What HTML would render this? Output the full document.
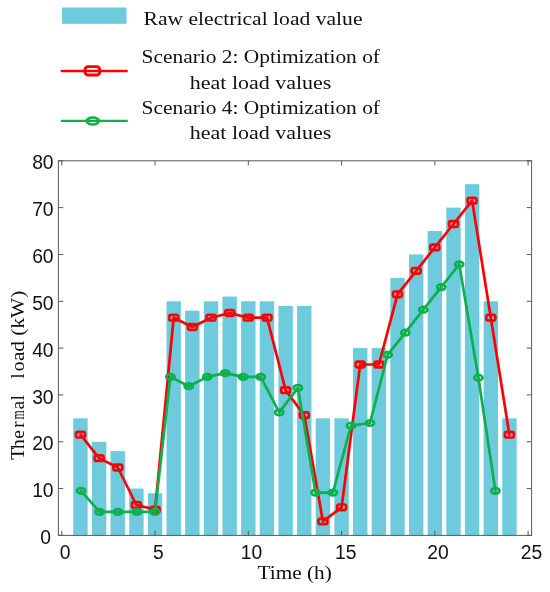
<!DOCTYPE html>
<html><head><meta charset="utf-8"><title>Thermal load</title>
<style>html,body{margin:0;padding:0;background:#fff}svg{display:block}text{fill:#111}.s{font-family:"Liberation Serif",serif}.a{font-family:"Liberation Sans",sans-serif}</style></head><body>
<svg width="550" height="592" viewBox="0 0 550 592">
<rect width="550" height="592" fill="#fff"/>
<rect x="62" y="7.5" width="64.5" height="16.3" fill="#6ecbde"/>
<line x1="61.8" y1="71.0" x2="126.8" y2="71.0" stroke="#ff0000" stroke-width="2.3" stroke-linecap="round"/>
<rect x="85.05" y="66.6" width="14.6" height="8.4" rx="3" fill="none" stroke="#ff0000" stroke-width="2.9"/>
<line x1="61.8" y1="120.9" x2="126.8" y2="120.9" stroke="#0db04b" stroke-width="2.3" stroke-linecap="round"/>
<ellipse cx="92.8" cy="121" rx="6.2" ry="3.45" fill="none" stroke="#0db04b" stroke-width="2.5"/>
<g class="s" font-size="19.6">
<text x="143.5" y="24.8" textLength="219" lengthAdjust="spacingAndGlyphs">Raw electrical load value</text>
<text x="141.6" y="62.6" textLength="238.4" lengthAdjust="spacingAndGlyphs">Scenario 2: Optimization of</text>
<text x="189.8" y="88.8" textLength="141.6" lengthAdjust="spacingAndGlyphs">heat load values</text>
<text x="141.6" y="113.9" textLength="238.4" lengthAdjust="spacingAndGlyphs">Scenario 4: Optimization of</text>
<text x="189.8" y="139.2" textLength="141.6" lengthAdjust="spacingAndGlyphs">heat load values</text>
</g>
<g fill="#6ecbde">
<rect x="73.25" y="418.34" width="14.4" height="117.06"/>
<rect x="91.90" y="441.75" width="14.4" height="93.65"/>
<rect x="110.56" y="451.12" width="14.4" height="84.28"/>
<rect x="129.21" y="488.57" width="14.4" height="46.82"/>
<rect x="147.86" y="493.26" width="14.4" height="42.14"/>
<rect x="166.51" y="301.27" width="14.4" height="234.12"/>
<rect x="185.16" y="310.64" width="14.4" height="224.76"/>
<rect x="203.82" y="301.27" width="14.4" height="234.12"/>
<rect x="222.47" y="296.59" width="14.4" height="238.81"/>
<rect x="241.12" y="301.27" width="14.4" height="234.12"/>
<rect x="259.77" y="301.27" width="14.4" height="234.12"/>
<rect x="278.42" y="305.96" width="14.4" height="229.44"/>
<rect x="297.08" y="305.96" width="14.4" height="229.44"/>
<rect x="315.73" y="418.34" width="14.4" height="117.06"/>
<rect x="334.38" y="418.34" width="14.4" height="117.06"/>
<rect x="353.03" y="348.10" width="14.4" height="187.30"/>
<rect x="371.68" y="348.10" width="14.4" height="187.30"/>
<rect x="390.34" y="277.86" width="14.4" height="257.54"/>
<rect x="408.99" y="254.45" width="14.4" height="280.95"/>
<rect x="427.64" y="231.04" width="14.4" height="304.36"/>
<rect x="446.29" y="207.62" width="14.4" height="327.78"/>
<rect x="464.94" y="184.21" width="14.4" height="351.19"/>
<rect x="483.60" y="301.27" width="14.4" height="234.12"/>
<rect x="502.25" y="418.34" width="14.4" height="117.06"/>
</g>
<g stroke="#5a5a5a" stroke-width="1" fill="none">
<rect x="58.4" y="160.8" width="473.20000000000005" height="374.59999999999997"/>
<path d="M61.80 535.4v-4.7M61.80 160.8v4.7M155.06 535.4v-4.7M155.06 160.8v4.7M248.32 535.4v-4.7M248.32 160.8v4.7M341.58 535.4v-4.7M341.58 160.8v4.7M434.84 535.4v-4.7M434.84 160.8v4.7M528.10 535.4v-4.7M528.10 160.8v4.7M58.4 535.40h4.9M531.6 535.40h-4.9M58.4 488.57h4.9M531.6 488.57h-4.9M58.4 441.75h4.9M531.6 441.75h-4.9M58.4 394.92h4.9M531.6 394.92h-4.9M58.4 348.10h4.9M531.6 348.10h-4.9M58.4 301.27h4.9M531.6 301.27h-4.9M58.4 254.45h4.9M531.6 254.45h-4.9M58.4 207.62h4.9M531.6 207.62h-4.9M58.4 160.80h4.9M531.6 160.80h-4.9"/>
</g>
<g stroke="#ff0000" stroke-width="2.7" fill="none" stroke-linejoin="round" stroke-linecap="round"><polyline points="80.5,434.7 99.1,458.1 117.8,467.5 136.4,505.0 155.1,509.6 173.7,317.7 192.4,327.0 211.0,317.7 229.7,313.0 248.3,317.7 267.0,317.7 285.6,390.2 304.3,415.1 322.9,521.4 341.6,507.3 360.2,364.5 378.9,364.5 397.5,294.3 416.2,270.8 434.8,247.4 453.5,224.0 472.1,200.6 490.8,317.7 509.4,434.7"/>
<rect x="76.0" y="431.9" width="9" height="5.6" rx="2"/>
<rect x="94.6" y="455.3" width="9" height="5.6" rx="2"/>
<rect x="113.3" y="464.7" width="9" height="5.6" rx="2"/>
<rect x="131.9" y="502.2" width="9" height="5.6" rx="2"/>
<rect x="150.6" y="506.8" width="9" height="5.6" rx="2"/>
<rect x="169.2" y="314.9" width="9" height="5.6" rx="2"/>
<rect x="187.9" y="324.2" width="9" height="5.6" rx="2"/>
<rect x="206.5" y="314.9" width="9" height="5.6" rx="2"/>
<rect x="225.2" y="310.2" width="9" height="5.6" rx="2"/>
<rect x="243.8" y="314.9" width="9" height="5.6" rx="2"/>
<rect x="262.5" y="314.9" width="9" height="5.6" rx="2"/>
<rect x="281.1" y="387.4" width="9" height="5.6" rx="2"/>
<rect x="299.8" y="412.3" width="9" height="5.6" rx="2"/>
<rect x="318.4" y="518.6" width="9" height="5.6" rx="2"/>
<rect x="337.1" y="504.5" width="9" height="5.6" rx="2"/>
<rect x="355.7" y="361.7" width="9" height="5.6" rx="2"/>
<rect x="374.4" y="361.7" width="9" height="5.6" rx="2"/>
<rect x="393.0" y="291.5" width="9" height="5.6" rx="2"/>
<rect x="411.7" y="268.0" width="9" height="5.6" rx="2"/>
<rect x="430.3" y="244.6" width="9" height="5.6" rx="2"/>
<rect x="449.0" y="221.2" width="9" height="5.6" rx="2"/>
<rect x="467.6" y="197.8" width="9" height="5.6" rx="2"/>
<rect x="486.3" y="314.9" width="9" height="5.6" rx="2"/>
<rect x="504.9" y="431.9" width="9" height="5.6" rx="2"/>
</g>
<g stroke="#0db04b" stroke-width="2.7" fill="none" stroke-linejoin="round" stroke-linecap="round"><polyline points="81,490.8 99.6,511.9 118,511.9 136.8,511.9 155,511.9 170.4,376.9 188.7,386.2 207.3,376.9 225.3,373.1 243.1,376.9 260.8,376.9 279.2,412.4 297.9,387.9 315.5,492.6 332.9,492.6 351.0,425.7 370.0,423 387.6,354.8 405.3,332.7 423.3,309.7 441.2,287.1 459.2,264.3 478.4,377.7 495.4,490.9"/>
<ellipse cx="81" cy="490.8" rx="4.1" ry="2.75"/>
<ellipse cx="99.6" cy="511.9" rx="4.1" ry="2.75"/>
<ellipse cx="118" cy="511.9" rx="4.1" ry="2.75"/>
<ellipse cx="136.8" cy="511.9" rx="4.1" ry="2.75"/>
<ellipse cx="155" cy="511.9" rx="4.1" ry="2.75"/>
<ellipse cx="170.4" cy="376.9" rx="4.1" ry="2.75"/>
<ellipse cx="188.7" cy="386.2" rx="4.1" ry="2.75"/>
<ellipse cx="207.3" cy="376.9" rx="4.1" ry="2.75"/>
<ellipse cx="225.3" cy="373.1" rx="4.1" ry="2.75"/>
<ellipse cx="243.1" cy="376.9" rx="4.1" ry="2.75"/>
<ellipse cx="260.8" cy="376.9" rx="4.1" ry="2.75"/>
<ellipse cx="279.2" cy="412.4" rx="4.1" ry="2.75"/>
<ellipse cx="297.9" cy="387.9" rx="4.1" ry="2.75"/>
<ellipse cx="315.5" cy="492.6" rx="4.1" ry="2.75"/>
<ellipse cx="332.9" cy="492.6" rx="4.1" ry="2.75"/>
<ellipse cx="351.0" cy="425.7" rx="4.1" ry="2.75"/>
<ellipse cx="370.0" cy="423" rx="4.1" ry="2.75"/>
<ellipse cx="387.6" cy="354.8" rx="4.1" ry="2.75"/>
<ellipse cx="405.3" cy="332.7" rx="4.1" ry="2.75"/>
<ellipse cx="423.3" cy="309.7" rx="4.1" ry="2.75"/>
<ellipse cx="441.2" cy="287.1" rx="4.1" ry="2.75"/>
<ellipse cx="459.2" cy="264.3" rx="4.1" ry="2.75"/>
<ellipse cx="478.4" cy="377.7" rx="4.1" ry="2.75"/>
<ellipse cx="495.4" cy="490.9" rx="4.1" ry="2.75"/>
</g>
<g class="a" font-size="19.3" text-anchor="end">
<text x="50.9" y="544.0">0</text>
<text x="53.6" y="497.2">10</text>
<text x="53.6" y="450.4">20</text>
<text x="53.6" y="403.5">30</text>
<text x="53.6" y="356.7">40</text>
<text x="53.6" y="309.9">50</text>
<text x="53.6" y="263.1">60</text>
<text x="53.6" y="216.2">70</text>
<text x="53.6" y="169.4">80</text>
</g>
<g class="a" font-size="19.3" text-anchor="middle">
<text x="65.1" y="558.6">0</text>
<text x="158.4" y="558.6">5</text>
<text x="251.6" y="558.6">10</text>
<text x="345.7" y="558.6">15</text>
<text x="438.1" y="558.6">20</text>
<text x="531.4" y="558.6">25</text>
</g>
<text class="s" font-size="19.6" x="257.5" y="578.6" textLength="74.3" lengthAdjust="spacingAndGlyphs">Time (h)</text>
<g transform="translate(23.6 458.6) rotate(-90)" class="s" font-size="19.6">
<text y="0"><tspan x="4.86" text-anchor="middle">T</tspan><tspan x="14.58" text-anchor="middle">h</tspan><tspan x="24.30" text-anchor="middle">e</tspan><tspan x="34.02" text-anchor="middle">r</tspan><tspan x="39.14" textLength="9.2" lengthAdjust="spacingAndGlyphs">m</tspan><tspan x="53.46" text-anchor="middle">a</tspan><tspan x="63.18" text-anchor="middle">l</tspan> <tspan x="82.62" text-anchor="middle">l</tspan><tspan x="92.34" text-anchor="middle">o</tspan></text>
<text x="97.5" y="0" textLength="70.4" lengthAdjust="spacingAndGlyphs">ad (kW)</text>
</g>
</svg></body></html>
